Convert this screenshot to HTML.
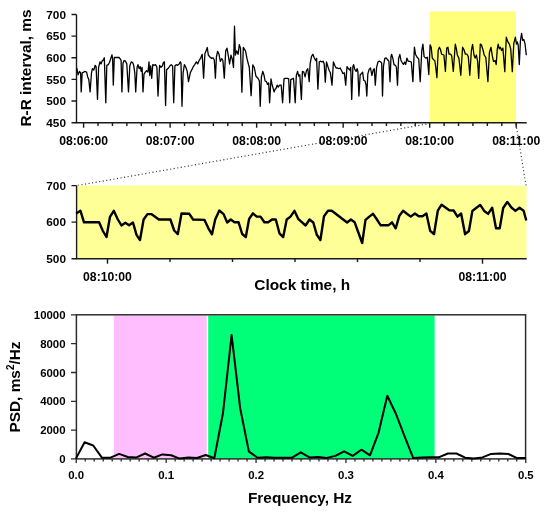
<!DOCTYPE html>
<html><head><meta charset="utf-8"><style>html,body{margin:0;padding:0;background:#fff;width:550px;height:512px;overflow:hidden}svg{display:block}</style></head><body>
<svg width="550" height="512" viewBox="0 0 550 512" font-family='"Liberation Sans", Arial, Helvetica, sans-serif' font-weight="bold">
<rect width="550" height="512" fill="#fff"/>
<rect x="429.7" y="11.4" width="86.3" height="111.3" fill="#FFFF7C"/>
<line x1="430" y1="123.5" x2="77.5" y2="185.5" stroke="#333" stroke-width="1.15" stroke-dasharray="1.1 2.5"/>
<line x1="516" y1="124" x2="526" y2="185.5" stroke="#333" stroke-width="1.15" stroke-dasharray="1.1 2.5"/>
<path d="M76.5 14.5V122.7H526.7" fill="none" stroke="#1a1a1a" stroke-width="1.4"/>
<text x="66" y="18.7" text-anchor="end" font-size="11.8">700</text>
<text x="66" y="40.3" text-anchor="end" font-size="11.8">650</text>
<text x="66" y="62.0" text-anchor="end" font-size="11.8">600</text>
<text x="66" y="83.6" text-anchor="end" font-size="11.8">550</text>
<text x="66" y="105.3" text-anchor="end" font-size="11.8">500</text>
<text x="66" y="126.9" text-anchor="end" font-size="11.8">450</text>
<path d="M71.5 14.50H76.5 M71.5 36.14H76.5 M71.5 57.78H76.5 M71.5 79.42H76.5 M71.5 101.06H76.5 M71.5 122.70H76.5 M83.60 122.7V127.7 M98.02 122.7V125.9 M112.44 122.7V125.9 M126.86 122.7V125.9 M141.28 122.7V125.9 M155.70 122.7V125.9 M170.12 122.7V127.7 M184.54 122.7V125.9 M198.96 122.7V125.9 M213.38 122.7V125.9 M227.80 122.7V125.9 M242.22 122.7V125.9 M256.64 122.7V127.7 M271.06 122.7V125.9 M285.48 122.7V125.9 M299.90 122.7V125.9 M314.32 122.7V125.9 M328.74 122.7V125.9 M343.16 122.7V127.7 M357.58 122.7V125.9 M372.00 122.7V125.9 M386.42 122.7V125.9 M400.84 122.7V125.9 M415.26 122.7V125.9 M429.68 122.7V127.7 M444.10 122.7V125.9 M458.52 122.7V125.9 M472.94 122.7V125.9 M487.36 122.7V125.9 M501.78 122.7V125.9 M516.20 122.7V127.7" stroke="#1a1a1a" stroke-width="1.4"/>
<text x="83.6" y="144.8" text-anchor="middle" font-size="12.2">08:06:00</text>
<text x="170.1" y="144.8" text-anchor="middle" font-size="12.2">08:07:00</text>
<text x="256.6" y="144.8" text-anchor="middle" font-size="12.2">08:08:00</text>
<text x="343.2" y="144.8" text-anchor="middle" font-size="12.2">08:09:00</text>
<text x="429.7" y="144.8" text-anchor="middle" font-size="12.2">08:10:00</text>
<text x="516.2" y="144.8" text-anchor="middle" font-size="12.2">08:11:00</text>
<polyline points="76.7,68.0 78.1,74.8 79.5,71.4 80.6,72.8 81.2,91.9 82.2,72.8 83.6,72.1 84.9,71.4 86.6,72.1 87.7,76.9 88.8,79.6 90.1,91.9 91.5,72.8 92.4,68.7 93.8,70.0 95.2,65.3 96.1,66.6 97.5,99.4 98.6,67.3 100.0,61.9 101.0,63.9 102.0,61.2 103.4,59.8 104.3,57.8 105.8,102.8 106.8,65.3 108.2,64.6 109.5,62.5 110.6,59.1 112.0,54.8 112.6,59.0 113.3,85.1 114.3,57.5 115.7,57.5 119.1,57.5 120.4,59.1 121.1,60.5 121.9,91.9 123.0,63.2 124.1,60.5 125.5,61.2 126.8,63.9 128.5,91.9 129.8,66.0 131.2,61.9 132.6,62.5 133.7,65.3 134.8,72.8 135.7,91.9 137.1,67.3 138.0,64.6 139.1,68.7 140.2,66.6 141.2,71.4 142.1,67.3 143.0,91.9 144.0,74.2 145.3,72.1 146.6,70.7 148.0,72.1 149.0,61.9 149.8,75.5 150.7,66.0 151.7,78.3 152.8,64.6 154.2,65.3 155.5,64.6 156.9,67.3 158.0,96.0 159.6,65.3 161.0,67.3 162.3,66.0 163.4,62.5 164.4,61.9 165.6,105.5 166.6,69.8 168.5,68.0 169.8,66.0 171.2,64.6 172.6,66.0 173.7,102.8 174.9,66.0 176.2,64.6 177.6,65.3 179.0,64.3 180.3,61.9 181.0,63.0 182.0,106.3 183.1,72.8 184.4,64.6 185.8,67.3 187.2,71.4 188.5,81.7 190.3,72.8 192.0,69.4 193.3,66.6 194.7,64.6 196.3,61.9 197.7,63.9 199.1,60.5 200.8,57.8 202.2,54.3 203.6,78.3 204.9,53.7 206.0,50.9 207.3,47.5 208.3,55.0 210.0,57.1 211.8,58.4 213.1,57.8 214.3,60.0 215.4,78.2 216.4,57.0 217.6,51.3 219.0,54.3 220.3,61.4 221.7,58.7 222.9,60.5 224.3,78.1 225.7,50.8 227.0,48.2 228.2,55.2 229.6,64.0 231.0,55.2 232.2,58.7 233.5,67.5 234.5,26.2 235.4,55.2 236.6,50.8 238.1,54.3 239.3,44.6 240.5,48.2 241.9,92.2 243.3,47.3 245.5,50.8 247.2,59.6 249.3,67.5 251.1,95.7 252.8,64.9 254.3,67.5 256.0,76.3 258.1,78.5 259.4,81.0 260.2,106.3 261.4,76.9 262.8,71.4 264.1,75.5 265.1,81.0 266.5,81.7 267.6,84.4 268.7,83.0 269.6,102.8 271.0,78.9 271.9,83.7 273.0,87.8 274.1,91.9 275.1,89.2 276.0,88.5 277.1,85.1 278.2,87.1 279.6,85.1 281.2,85.1 282.6,102.8 284.0,78.9 285.3,78.3 287.4,78.3 288.7,78.9 289.7,102.8 290.8,79.6 292.2,78.9 293.5,78.3 295.2,102.8 296.3,75.5 297.6,71.4 298.7,76.2 299.8,74.8 301.4,99.4 302.4,71.4 303.8,72.1 305.1,76.9 306.5,70.7 307.8,68.7 309.2,81.7 310.1,63.9 311.5,56.4 312.9,54.3 314.2,57.8 315.6,60.5 316.6,58.4 317.9,89.2 319.3,61.9 320.7,61.2 322.0,61.9 323.1,61.2 324.2,63.9 325.3,82.3 326.5,61.9 327.9,66.6 329.3,70.7 330.4,72.8 332.0,85.1 333.4,61.9 334.7,65.3 336.1,68.0 337.5,68.0 338.8,68.7 340.2,68.0 341.6,70.7 342.9,73.5 344.3,72.8 345.7,85.1 347.0,66.6 348.4,68.7 349.8,70.0 350.7,67.3 351.7,99.4 352.9,66.5 353.6,64.6 354.8,69.4 356.1,71.4 357.1,68.7 357.9,71.4 358.9,96.0 360.2,74.8 361.6,73.5 362.6,72.1 363.7,80.3 365.0,81.0 366.1,85.1 366.8,96.0 367.8,74.2 369.1,69.4 370.5,68.0 371.9,75.5 373.2,70.0 374.3,68.7 375.3,85.1 376.6,67.3 378.0,61.9 379.4,61.2 380.7,61.9 381.7,63.2 382.5,96.0 383.5,66.0 384.8,58.4 386.2,57.8 387.6,59.8 388.9,61.2 390.0,81.7 391.0,56.4 391.7,54.3 393.0,59.1 394.0,64.6 395.4,65.3 396.4,67.3 397.5,85.1 398.6,58.5 399.9,54.5 401.0,60.5 402.3,62.8 403.5,64.4 404.6,62.0 405.7,64.4 406.9,58.1 408.2,61.3 409.8,61.3 411.3,62.0 412.9,81.6 414.4,47.2 415.5,54.2 417.1,57.3 418.7,58.9 420.2,81.6 421.8,50.3 422.9,44.1 424.1,56.6 425.7,58.1 427.3,57.3 428.8,74.5 430.1,44.8 431.2,47.2 432.3,58.1 433.5,59.7 434.8,60.5 435.8,67.5 436.9,77.7 438.2,50.3 439.4,47.2 440.5,49.5 441.6,54.2 442.5,54.5 443.9,55.0 445.4,71.4 446.7,48.0 447.9,47.2 449.0,54.2 450.6,54.2 451.7,55.8 453.3,71.4 455.3,44.1 456.4,48.8 457.3,55.0 458.9,58.1 460.8,75.3 462.6,47.2 463.9,49.5 465.4,54.2 467.0,54.2 468.3,56.6 469.8,75.3 471.4,50.3 472.6,44.4 474.0,55.0 475.1,58.1 476.4,55.0 477.6,61.3 478.7,78.4 480.3,44.1 481.4,44.8 482.9,49.5 484.2,55.0 485.8,57.3 487.9,81.7 489.4,52.8 491.0,47.3 492.3,55.9 493.5,61.4 495.1,60.6 496.2,64.5 497.3,48.9 498.2,44.2 499.3,48.9 500.4,47.3 501.6,50.5 502.9,48.1 504.8,71.6 506.3,37.2 507.9,41.9 509.4,44.2 510.7,48.9 512.3,71.6 513.8,43.4 515.4,37.2 516.5,44.2 517.3,41.9 518.2,45.0 519.3,64.5 520.4,41.1 521.6,33.3 522.7,40.3 523.8,39.5 525.1,44.2 526.3,55.2" fill="none" stroke="#000" stroke-width="1.3" stroke-linejoin="round"/>
<text transform="translate(30.5 68) rotate(-90)" text-anchor="middle" font-size="15.4">R-R interval, ms</text>
<rect x="77.3" y="185.6" width="449.2" height="73.1" fill="#FFFF98"/>
<path d="M76.6 185.6V258.7H526.7" fill="none" stroke="#1a1a1a" stroke-width="1.4"/>
<text x="66" y="189.8" text-anchor="end" font-size="11.8">700</text>
<text x="66" y="226.3" text-anchor="end" font-size="11.8">600</text>
<text x="66" y="262.9" text-anchor="end" font-size="11.8">500</text>
<path d="M71.5 185.60H76.6 M71.5 222.15H76.6 M71.5 258.70H76.6 M107.50 258.7V263.7 M170.00 258.7V261.9 M232.50 258.7V261.9 M295.00 258.7V261.9 M357.50 258.7V261.9 M420.00 258.7V261.9 M482.50 258.7V263.7" stroke="#1a1a1a" stroke-width="1.4"/>
<text x="107.5" y="281" text-anchor="middle" font-size="12.2">08:10:00</text>
<text x="482.5" y="281" text-anchor="middle" font-size="12.2">08:11:00</text>
<text x="302.2" y="290" text-anchor="middle" font-size="15.4">Clock time, h</text>
<polyline points="76.2,213.5 80.5,210.8 84.0,222.3 99.1,222.3 102.9,231.0 106.5,237.0 110.0,216.8 113.8,210.8 117.6,219.0 121.5,225.5 125.3,222.8 129.1,225.3 133.0,222.5 136.5,234.8 140.0,240.0 143.6,219.5 147.5,214.1 151.3,214.1 155.1,216.8 158.9,219.5 170.4,219.5 174.2,230.5 177.8,234.1 181.5,213.5 189.3,213.8 193.1,219.5 204.5,219.9 208.4,228.3 212.0,234.3 215.2,219.5 219.3,210.5 223.6,214.1 227.2,222.5 230.7,219.5 234.5,222.3 238.6,222.3 242.2,234.0 245.8,237.0 249.1,219.0 252.9,213.3 256.7,216.6 260.5,216.6 264.4,222.3 268.2,222.3 272.0,219.5 275.8,219.5 279.6,233.7 283.2,237.0 286.7,219.5 290.5,216.6 294.4,210.8 298.2,218.8 301.8,222.1 305.6,225.5 309.5,219.5 313.3,222.5 316.8,234.8 320.4,240.0 324.0,216.3 328.0,210.8 331.8,210.8 347.1,222.5 350.9,219.5 354.7,222.3 357.8,231.0 362.2,243.0 365.5,219.9 369.3,216.6 373.1,213.8 376.9,219.5 380.7,225.3 388.4,225.3 392.0,222.3 395.7,228.3 399.3,215.9 403.1,210.8 406.9,213.8 410.7,216.6 414.9,213.5 418.7,216.2 422.5,216.2 426.4,213.5 430.2,230.9 434.0,234.2 437.8,210.7 441.6,204.7 449.3,210.2 453.6,210.5 457.5,216.7 461.1,213.5 465.1,234.2 468.9,231.0 472.4,210.9 476.2,208.0 480.2,204.9 484.0,210.7 488.1,213.9 492.2,207.7 496.0,228.2 499.7,228.2 503.2,208.0 507.3,201.9 511.4,207.5 515.5,210.9 519.5,207.7 523.6,210.7 526.3,220.5" fill="none" stroke="#000" stroke-width="2.4" stroke-linejoin="round"/>
<rect x="113.8" y="315.5" width="92.9" height="143.4" fill="#FFBFFF"/>
<rect x="208.2" y="315.5" width="226.4" height="143.4" fill="#00FF78"/>
<rect x="76.4" y="314.8" width="449.2" height="144.1" fill="none" stroke="#2e2e2e" stroke-width="1.5"/>
<text x="65.5" y="462.9" text-anchor="end" font-size="11.4">0</text>
<text x="65.5" y="434.1" text-anchor="end" font-size="11.4">2000</text>
<text x="65.5" y="405.3" text-anchor="end" font-size="11.4">4000</text>
<text x="65.5" y="376.5" text-anchor="end" font-size="11.4">6000</text>
<text x="65.5" y="347.7" text-anchor="end" font-size="11.4">8000</text>
<text x="65.5" y="318.9" text-anchor="end" font-size="11.4">10000</text>
<path d="M71 458.90H76.4 M71 430.10H76.4 M71 401.30H76.4 M71 372.50H76.4 M71 343.70H76.4 M71 314.90H76.4 M76.25 458.9V462.9 M85.24 458.9V461.5 M94.23 458.9V461.5 M103.22 458.9V461.5 M112.21 458.9V461.5 M121.20 458.9V461.5 M130.19 458.9V461.5 M139.18 458.9V461.5 M148.17 458.9V461.5 M157.16 458.9V461.5 M166.15 458.9V462.9 M175.14 458.9V461.5 M184.13 458.9V461.5 M193.12 458.9V461.5 M202.11 458.9V461.5 M211.10 458.9V461.5 M220.09 458.9V461.5 M229.08 458.9V461.5 M238.07 458.9V461.5 M247.06 458.9V461.5 M256.05 458.9V462.9 M265.04 458.9V461.5 M274.03 458.9V461.5 M283.02 458.9V461.5 M292.01 458.9V461.5 M301.00 458.9V461.5 M309.99 458.9V461.5 M318.98 458.9V461.5 M327.97 458.9V461.5 M336.96 458.9V461.5 M345.95 458.9V462.9 M354.94 458.9V461.5 M363.93 458.9V461.5 M372.92 458.9V461.5 M381.91 458.9V461.5 M390.90 458.9V461.5 M399.89 458.9V461.5 M408.88 458.9V461.5 M417.87 458.9V461.5 M426.86 458.9V461.5 M435.85 458.9V462.9 M444.84 458.9V461.5 M453.83 458.9V461.5 M462.82 458.9V461.5 M471.81 458.9V461.5 M480.80 458.9V461.5 M489.79 458.9V461.5 M498.78 458.9V461.5 M507.77 458.9V461.5 M516.76 458.9V461.5 M525.75 458.9V462.9" stroke="#2a2a2a" stroke-width="1.3"/>
<text x="76.2" y="479.2" text-anchor="middle" font-size="11.4">0.0</text>
<text x="166.2" y="479.2" text-anchor="middle" font-size="11.4">0.1</text>
<text x="256.1" y="479.2" text-anchor="middle" font-size="11.4">0.2</text>
<text x="346.0" y="479.2" text-anchor="middle" font-size="11.4">0.3</text>
<text x="435.9" y="479.2" text-anchor="middle" font-size="11.4">0.4</text>
<text x="525.8" y="479.2" text-anchor="middle" font-size="11.4">0.5</text>
<polyline points="75.9,458.6 84.6,442.3 93.2,445.5 101.9,457.7 110.5,457.7 119.2,453.9 127.8,457.0 136.5,457.4 145.1,453.5 153.8,457.7 162.4,454.4 171.1,455.2 179.7,458.6 188.4,457.4 197.0,458.0 205.7,455.0 214.3,458.2 223.0,413.0 231.6,335.0 240.2,408.4 248.9,451.6 257.6,457.7 266.2,457.2 274.9,457.7 283.5,457.7 292.1,457.7 300.8,452.3 309.5,457.4 318.1,457.0 326.8,457.9 335.4,455.9 344.1,451.3 352.7,455.9 361.4,449.7 370.0,455.3 378.6,432.6 387.3,395.8 396.0,414.0 404.6,436.4 413.2,458.0 421.9,457.6 430.6,457.3 439.2,457.2 447.9,453.5 456.5,453.5 465.1,457.7 473.8,458.6 482.5,457.4 491.1,453.9 499.8,453.6 508.4,454.0 517.1,458.1 525.7,458.1" fill="none" stroke="#000" stroke-width="2.0" stroke-linejoin="round"/>
<text x="300" y="502.7" text-anchor="middle" font-size="15.4">Frequency, Hz</text>
<text transform="translate(19.5 387) rotate(-90)" text-anchor="middle" font-size="15.4">PSD, ms<tspan font-size="10" dy="-6">2</tspan><tspan dy="6">/Hz</tspan></text>
</svg>
</body></html>
